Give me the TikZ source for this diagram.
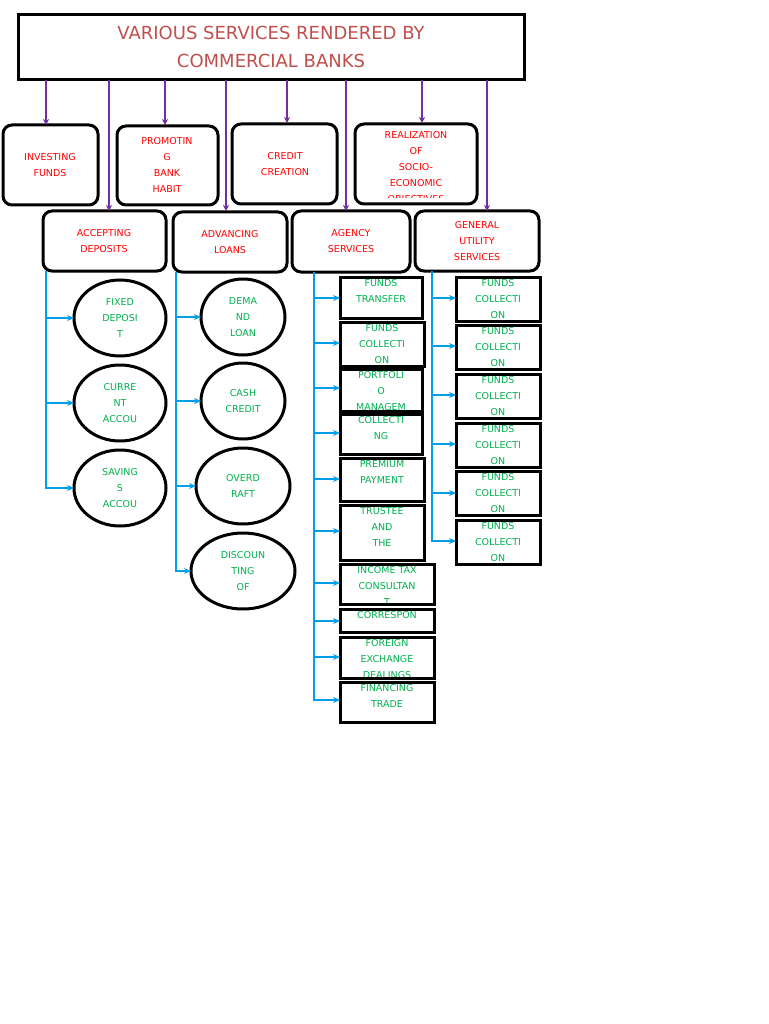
\documentclass[tikz,border=0pt]{standalone}
\usepackage{fontspec}
\setmainfont{DejaVu Sans}
\usetikzlibrary{arrows.meta}
\definecolor{tred}{HTML}{C0504D}
\definecolor{rtxt}{HTML}{FF0000}
\definecolor{gtxt}{HTML}{00B050}
\definecolor{purp}{HTML}{7030A0}
\definecolor{blu}{HTML}{00A0E8}
\begin{document}
\begin{tikzpicture}[x=1pt,y=-1pt,
 rbox/.style={draw=black,line width=3pt,rounded corners=9pt},
 sbox/.style={draw=black,line width=3pt},
 ell/.style={draw=black,line width=3pt},
 rt/.style={text=rtxt,font=\fontsize{9.5}{16}\selectfont,align=center},
 gt/.style={text=gtxt,font=\fontsize{9.5}{16}\selectfont,align=center},
 pa/.style={draw=purp,line width=2pt,-{Stealth[length=6pt,width=6pt]}},
 ba/.style={draw=blu,line width=2pt,-{Stealth[length=7pt,width=6pt]}},
 bl/.style={draw=blu,line width=2pt}]
\useasboundingbox (0,0) rectangle (768,1024);
\fill[white] (0,0) rectangle (768,1024);
% title
\draw[sbox] (18,15) rectangle (524,80);
\node[text=tred,font=\fontsize{18}{28}\selectfont,align=center] (title) at (271,47) {VARIOUS SERVICES RENDERED BY\\COMMERCIAL BANKS};
% top row
\draw[rbox] (3,125) rectangle (98,205); \node[rt] (inv) at (50,165) {INVESTING\\FUNDS};
\draw[rbox] (117,126) rectangle (218,205); \node[rt] (pro) at (167,165) {PROMOTIN\\G\\BANK\\HABIT};
\draw[rbox] (232,124) rectangle (337,204); \node[rt] (cre) at (285,164) {CREDIT\\CREATION};
\begin{scope}
\draw[rbox] (355,124) rectangle (477,204);
\clip (360,128) rectangle (472,198);
\node[rt,anchor=north] (rea) at (416,128) {REALIZATION\\OF\\SOCIO-\\ECONOMIC\\OBJECTIVES};
\end{scope}
% second row
\draw[rbox] (43,211) rectangle (166,271); \node[rt] (acc) at (104,241) {ACCEPTING\\DEPOSITS};
\draw[rbox] (173,212) rectangle (287,272); \node[rt] (adv) at (230,242) {ADVANCING\\LOANS};
\draw[rbox] (292,211) rectangle (410,272); \node[rt] (age) at (351,241) {AGENCY\\SERVICES};
\draw[rbox] (415,211) rectangle (539,271); \node[rt] (gen) at (477,241) {GENERAL\\UTILITY\\SERVICES};
% purple arrows
\foreach \x/\y in {46/125,109/211,165/125,226/211,287/123,346/211,422/123,487/211}
  \draw[pa] (\x,80) -- (\x,\y);
% ellipses col 1
\foreach \cy/\tx in {318/{FIXED\\DEPOSI\\T},403/{CURRE\\NT\\ACCOU},488/{SAVING\\S\\ACCOU}}{
  \draw[ell] (120,\cy) ellipse [x radius=46, y radius=38];
  \node[gt] at (120,\cy) {\tx};
  \draw[ba] (46,\cy) -- (74,\cy);}
\draw[bl] (46,271) -- (46,489);
% ellipses col 2
\foreach \cy/\rr/\tx in {317/42/{DEMA\\ND\\LOAN},401/42/{CASH\\CREDIT},486/47/{OVERD\\RAFT},571/52/{DISCOUN\\TING\\OF}}{
  \draw[ell] (243,\cy) ellipse [x radius=\rr, y radius=38];
  \node[gt] at (243,\cy) {\tx};
  \pgfmathsetmacro{\ex}{243-\rr}
  \draw[ba] (176,\cy) -- (\ex,\cy);}
\draw[bl] (176,272) -- (176,572);
% agency column
\draw[bl] (314,272) -- (314,701);
\foreach \ya/\yb/\xb/\ay/\tx in {
 277/318/422/298/{FUNDS\\TRANSFER},
 322/366/424/343/{FUNDS\\COLLECTI\\ON},
 369/411/422/388/{PORTFOLI\\O\\MANAGEM},
 414/454/422/433/{COLLECTI\\NG},
 458/501/424/479/{PREMIUM\\PAYMENT},
 505/560/424/531/{TRUSTEE\\AND\\THE},
 564/604/434/583/{INCOME TAX\\CONSULTAN\\T},
 609/632/434/621/{CORRESPON},
 637/678/434/657/{FOREIGN\\EXCHANGE\\DEALINGS},
 682/722/434/700/{FINANCING\\TRADE}}{
  \draw[sbox] (340,\ya) rectangle (\xb,\yb);
  \pgfmathsetmacro{\mx}{(340+\xb)/2}
  \pgfmathsetmacro{\cxa}{\xb-2}
  \pgfmathsetmacro{\cya}{\ya+1}
  \pgfmathsetmacro{\cyb}{\yb-2}
  \pgfmathsetmacro{\ty}{\ya-1}
  \begin{scope}
  \clip (342,\cya) rectangle (\cxa,\cyb);
  \node[gt,anchor=north] at (\mx,\ty) {\tx};
  \end{scope}
  \draw[ba] (314,\ay) -- (340,\ay);}
% general column
\draw[bl] (432,271) -- (432,542);
\foreach \ya/\ay in {277/298,325/346,374/395,423/444,471/493,520/541}{
  \pgfmathsetmacro{\yb}{\ya+44}
  \pgfmathsetmacro{\cya}{\ya+1}
  \pgfmathsetmacro{\cyb}{\ya+42}
  \pgfmathsetmacro{\ty}{\ya-1}
  \draw[sbox] (456,\ya) rectangle (540,\yb);
  \begin{scope}
  \clip (458,\cya) rectangle (538,\cyb);
  \node[gt,anchor=north] at (498,\ty) {FUNDS\\COLLECTI\\ON};
  \end{scope}
  \draw[ba] (432,\ay) -- (456,\ay);}
\end{tikzpicture}
\end{document}
